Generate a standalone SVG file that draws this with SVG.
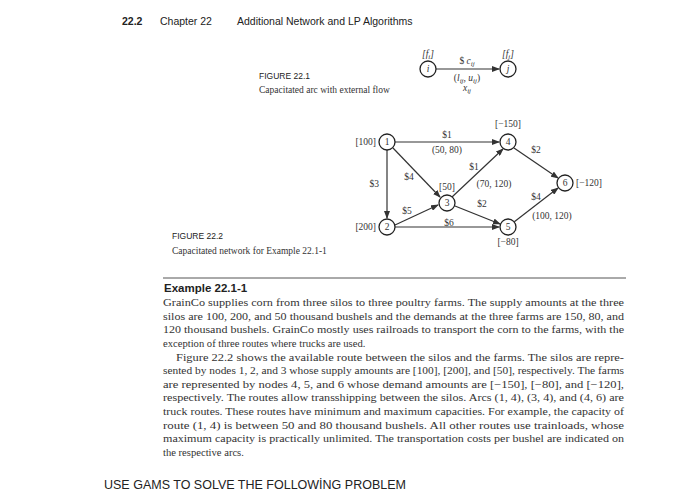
<svg xmlns="http://www.w3.org/2000/svg" width="695" height="494" viewBox="0 0 695 494">
<style>
.s{font-family:"Liberation Sans","Open Sans",sans-serif;fill:#222}
.r{font-family:"Liberation Serif",serif;fill:#333;font-size:9.5px}
.p{font-family:"Liberation Serif",serif;fill:#333;font-size:10.6px}
.n circle{fill:#fff;stroke:#222;stroke-width:1.3}
.n text{font-family:"Liberation Serif",serif;font-size:9.5px;fill:#333;text-anchor:middle}
.c line{stroke:#333;stroke-width:1.2;marker-end:url(#a)}
</style>
<defs><marker id="a" markerWidth="8" markerHeight="6" refX="7" refY="3" orient="auto" markerUnits="userSpaceOnUse"><path d="M0,0L8,3L0,6z" fill="#333"/></marker></defs>
<rect width="695" height="494" fill="#fff"/>
<text class="s" x="122" y="25" font-size="10.5" font-weight="bold">22.2</text>
<text class="s" x="160" y="25" font-size="10.5">Chapter 22</text>
<text class="s" x="237" y="25" font-size="10.5">Additional Network and LP Algorithms</text>
<text class="s" x="259" y="79" font-size="8.5">FIGURE 22.1</text>
<text class="r" x="259" y="93">Capacitated arc with external flow</text>
<text class="s" x="172" y="239" font-size="8.5">FIGURE 22.2</text>
<text class="r" x="172" y="254">Capacitated network for Example 22.1-1</text>
<g class="c">
<line x1="436" y1="69" x2="499" y2="69"/>
<line x1="395" y1="142" x2="499" y2="142"/>
<line x1="387" y1="150" x2="387" y2="218"/>
<line x1="393" y1="148" x2="440" y2="197"/>
<line x1="395" y1="225" x2="438" y2="205"/>
<line x1="395" y1="227" x2="499" y2="227"/>
<line x1="452" y1="197" x2="503" y2="149"/>
<line x1="455" y1="206" x2="500" y2="224"/>
<line x1="514" y1="148" x2="558" y2="178"/>
<line x1="514" y1="222" x2="558" y2="188"/>
</g>
<g id="fig1" class="r">
<text x="428" y="57" text-anchor="middle" font-style="italic">[f<tspan font-size="7" dy="2">i</tspan><tspan dy="-2">]</tspan></text>
<text x="508" y="57" text-anchor="middle" font-style="italic">[f<tspan font-size="7" dy="2">j</tspan><tspan dy="-2">]</tspan></text>
<text x="467" y="64" text-anchor="middle">$ <tspan font-style="italic">c<tspan font-size="7" dy="2">ij</tspan></tspan></text>
<text x="467" y="81" text-anchor="middle">(<tspan font-style="italic">l<tspan font-size="7" dy="2">ij</tspan><tspan dy="-2">, u</tspan><tspan font-size="7" dy="2">ij</tspan></tspan><tspan dy="-2">)</tspan></text>
<text x="467" y="91" text-anchor="middle" font-style="italic">x<tspan font-size="7" dy="2">ij</tspan></text>
</g>
<g id="ni" class="n"><circle cx="428" cy="69" r="8"/><text x="428" y="72" font-style="italic">i</text></g>
<g id="nj" class="n"><circle cx="508" cy="69" r="8"/><text x="508" y="72" font-style="italic">j</text></g>
<g id="n1" class="n"><circle cx="387" cy="142" r="8"/><text x="387" y="145">1</text></g>
<g id="n2" class="n"><circle cx="387" cy="227" r="8"/><text x="387" y="230">2</text></g>
<g id="n3" class="n"><circle cx="447" cy="203" r="8"/><text x="447" y="206">3</text></g>
<g id="n4" class="n"><circle cx="508" cy="142" r="8"/><text x="508" y="145">4</text></g>
<g id="n5" class="n"><circle cx="508" cy="227" r="8"/><text x="508" y="230">5</text></g>
<g id="n6" class="n"><circle cx="565" cy="183" r="8"/><text x="565" y="186">6</text></g>
<g id="labels" class="r">
<text x="376" y="145" text-anchor="end">[100]</text>
<text x="376" y="230" text-anchor="end">[200]</text>
<text x="447" y="190" text-anchor="middle">[50]</text>
<text x="508" y="127" text-anchor="middle">[−150]</text>
<text x="508" y="245" text-anchor="middle">[−80]</text>
<text x="576" y="186">[−120]</text>
<text x="447" y="138" text-anchor="middle">$1</text>
<text x="447" y="153" text-anchor="middle">(50, 80)</text>
<text x="379" y="187" text-anchor="end">$3</text>
<text x="409" y="180" text-anchor="middle">$4</text>
<text x="407" y="214" text-anchor="middle">$5</text>
<text x="449" y="226" text-anchor="middle">$6</text>
<text x="474" y="170" text-anchor="middle">$1</text>
<text x="494" y="187" text-anchor="middle">(70, 120)</text>
<text x="482" y="207" text-anchor="middle">$2</text>
<text x="536" y="153" text-anchor="middle">$2</text>
<text x="536" y="200" text-anchor="middle">$4</text>
<text x="552" y="219" text-anchor="middle">(100, 120)</text>
</g>
<line x1="163" y1="278" x2="626" y2="278" stroke="#555" stroke-width="1"/>
<text class="s" x="164" y="292" font-size="11.5" font-weight="bold">Example 22.1-1</text>
<g class="p">
<text x="163" y="306" textLength="461" lengthAdjust="spacingAndGlyphs">GrainCo supplies corn from three silos to three poultry farms. The supply amounts at the three</text>
<text x="163" y="320" textLength="461" lengthAdjust="spacingAndGlyphs">silos are 100, 200, and 50 thousand bushels and the demands at the three farms are 150, 80, and</text>
<text x="163" y="333" textLength="461" lengthAdjust="spacingAndGlyphs">120 thousand bushels. GrainCo mostly uses railroads to transport the corn to the farms, with the</text>
<text x="163" y="347">exception of three routes where trucks are used.</text>
<text x="176" y="361" textLength="448" lengthAdjust="spacingAndGlyphs">Figure 22.2 shows the available route between the silos and the farms. The silos are repre-</text>
<text x="163" y="374" textLength="461" lengthAdjust="spacingAndGlyphs">sented by nodes 1, 2, and 3 whose supply amounts are [100], [200], and [50], respectively. The farms</text>
<text x="163" y="388" textLength="461" lengthAdjust="spacingAndGlyphs">are represented by nodes 4, 5, and 6 whose demand amounts are [−150], [−80], and [−120],</text>
<text x="163" y="401" textLength="461" lengthAdjust="spacingAndGlyphs">respectively. The routes allow transshipping between the silos. Arcs (1, 4), (3, 4), and (4, 6) are</text>
<text x="163" y="415" textLength="461" lengthAdjust="spacingAndGlyphs">truck routes. These routes have minimum and maximum capacities. For example, the capacity of</text>
<text x="163" y="429" textLength="461" lengthAdjust="spacingAndGlyphs">route (1, 4) is between 50 and 80 thousand bushels. All other routes use trainloads, whose</text>
<text x="163" y="442" textLength="461" lengthAdjust="spacingAndGlyphs">maximum capacity is practically unlimited. The transportation costs per bushel are indicated on</text>
<text x="163" y="456">the respective arcs.</text>
</g>
<text class="s" x="104" y="489" font-size="12.5" fill="#333">USE GAMS TO SOLVE THE FOLLOWİNG PROBLEM</text>
</svg>
